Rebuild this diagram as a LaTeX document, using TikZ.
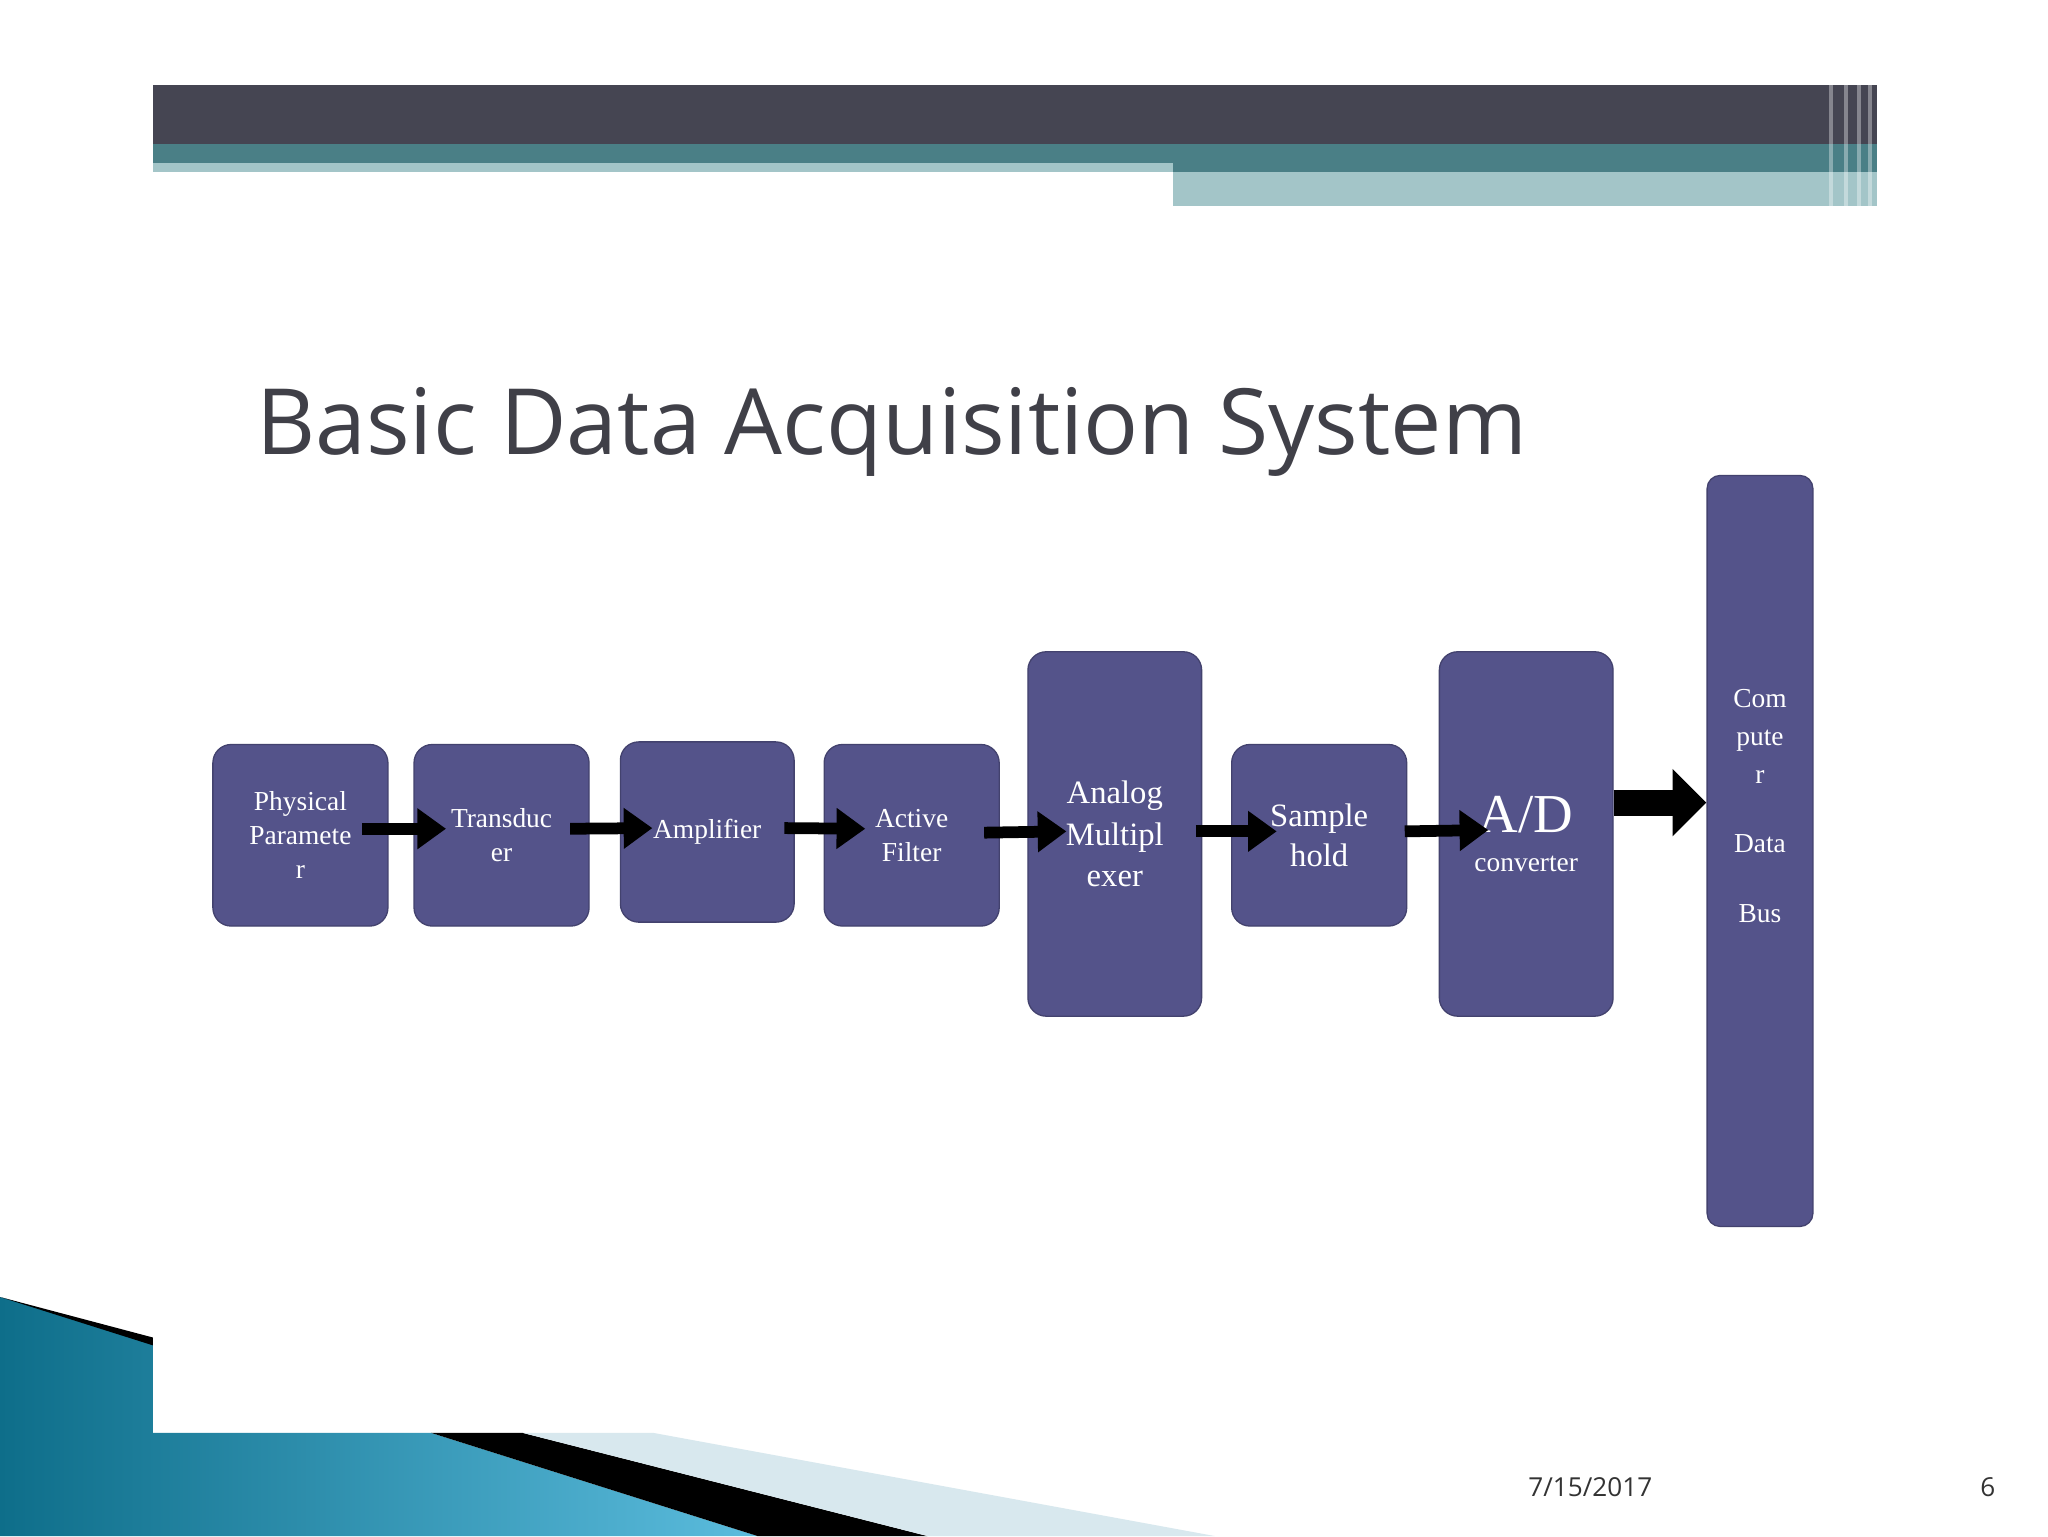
\documentclass[tikz,border=0pt]{standalone}
\usepackage{fontspec}
\setmainfont{Liberation Serif}
\newfontfamily\titlefont{Open Sans}
\usetikzlibrary{arrows.meta,positioning}
\definecolor{boxc}{HTML}{54538A}
\definecolor{darkbar}{HTML}{454552}
\definecolor{tealbar}{HTML}{4A7F86}
\definecolor{lightteal}{HTML}{A3C5C8}
\definecolor{titlec}{HTML}{404048}
\definecolor{dkteal}{HTML}{0E6E8A}
\definecolor{ltblue}{HTML}{5BBCDD}
\definecolor{paleblue}{HTML}{D8E8EE}
\tikzset{
 blk/.style={fill=boxc,draw=boxc!80!black,line width=1pt,rounded corners=14pt,text=white,align=center,font=\fontsize{21}{26}\selectfont,inner sep=0pt},
 arr/.style={line width=9pt,-{Triangle[length=22pt,width=30pt]}},
 bigarr/.style={line width=20pt,-{Triangle[length=26pt,width=50pt]}}
}
\begin{document}
\begin{tikzpicture}[x=1pt,y=-1pt]
\useasboundingbox (0,0) rectangle (1568,1176);
\fill[white] (0,0) rectangle (1568,1176);
% header
\fill[darkbar] (117,65) rectangle (1437,110);
\fill[tealbar] (117,110) rectangle (1437,132);
\fill[lightteal] (117,125) rectangle (898,132);
\fill[lightteal] (898,132) rectangle (1437,158);
\foreach \x in {1400,1412,1422,1430}{\fill[white,opacity=0.35] (\x,65) rectangle (\x+3,158);}
% title
\node[anchor=base west,text=titlec,font=\titlefont\fontsize{70}{80}\selectfont,inner sep=0pt] (title) at (196,348) {Basic Data Acquisition System};
% boxes
\node[blk,minimum width=134pt,minimum height=139pt] (b1) at (230,639.5) {Physical\\Paramete\\r};
\node[blk,minimum width=134pt,minimum height=139pt] (b2) at (384,639.5) {Transduc\\er};
\node[blk,minimum width=133pt,minimum height=138pt] (b3) at (541.5,637) {Amplifier};
\node[blk,minimum width=134pt,minimum height=139pt] (b4) at (698,639.5) {Active\\Filter};
\node[blk,minimum width=133pt,minimum height=279pt,font=\fontsize{25}{32}\selectfont] (b5) at (853.5,638.5) {Analog\\Multipl\\exer};
\node[blk,minimum width=134pt,minimum height=139pt,font=\fontsize{25}{31}\selectfont] (b6) at (1010,639.5) {Sample\\hold};
\node[blk,minimum width=133pt,minimum height=279pt] (b7) at (1168.5,638.5) {\fontsize{42}{42}\selectfont A/D\\[4pt]converter};
\node[blk,minimum width=81pt,minimum height=575pt,rounded corners=10pt,font=\fontsize{21}{29}\selectfont] (b8) at (1347.5,651.5) {Com\\pute\\r\\[24pt]Data\\[24pt]Bus\\[40pt]};
% arrows
\draw[arr] ([xshift=-20pt,yshift=5pt]b1.east) -- ([xshift=25pt,yshift=5pt]b2.west);
\draw[arr] ([xshift=-15pt,yshift=5pt]b2.east) -- ([xshift=25pt,yshift=3pt]b3.west);
\draw[arr] ([xshift=-8pt,yshift=3pt]b3.east) -- ([xshift=32pt,yshift=5pt]b4.west);
\draw[arr] ([xshift=-12pt,yshift=2pt]b4.east) -- ([xshift=30pt,yshift=2pt]b5.west);
\draw[arr] ([xshift=-5pt,yshift=3pt]b6.west -| b5.east) -- ([xshift=35pt,yshift=3pt]b6.west);
\draw[arr] ([xshift=-2pt,yshift=3pt]b6.east) -- ([xshift=38pt,yshift=3pt]b7.west);
\draw[bigarr] ([yshift=24pt]b7.east) -- ([yshift=24pt]b7.east -| b8.west);
% bottom decoration
\shade[left color=dkteal,right color=ltblue] (0,993) -- (117,1027) -- (117,1097) -- (330,1097) -- (580,1176) -- (0,1176) -- cycle;
\fill[black] (330,1097) -- (400,1097) -- (710,1176) -- (580,1176) -- cycle;
\fill[black] (0,993) -- (117,1024) -- (117,1030) -- cycle;
\fill[paleblue] (400,1097) -- (500,1097) -- (930,1176) -- (710,1176) -- cycle;
% footer
\node[anchor=base west,font=\titlefont\fontsize{20}{24}\selectfont,text=black!80,inner sep=0pt] (date) at (1170,1146) {7/15/2017};
\node[anchor=base west,font=\titlefont\fontsize{20}{24}\selectfont,text=black!80,inner sep=0pt] (page) at (1516,1146) {6};
\end{tikzpicture}
\end{document}
